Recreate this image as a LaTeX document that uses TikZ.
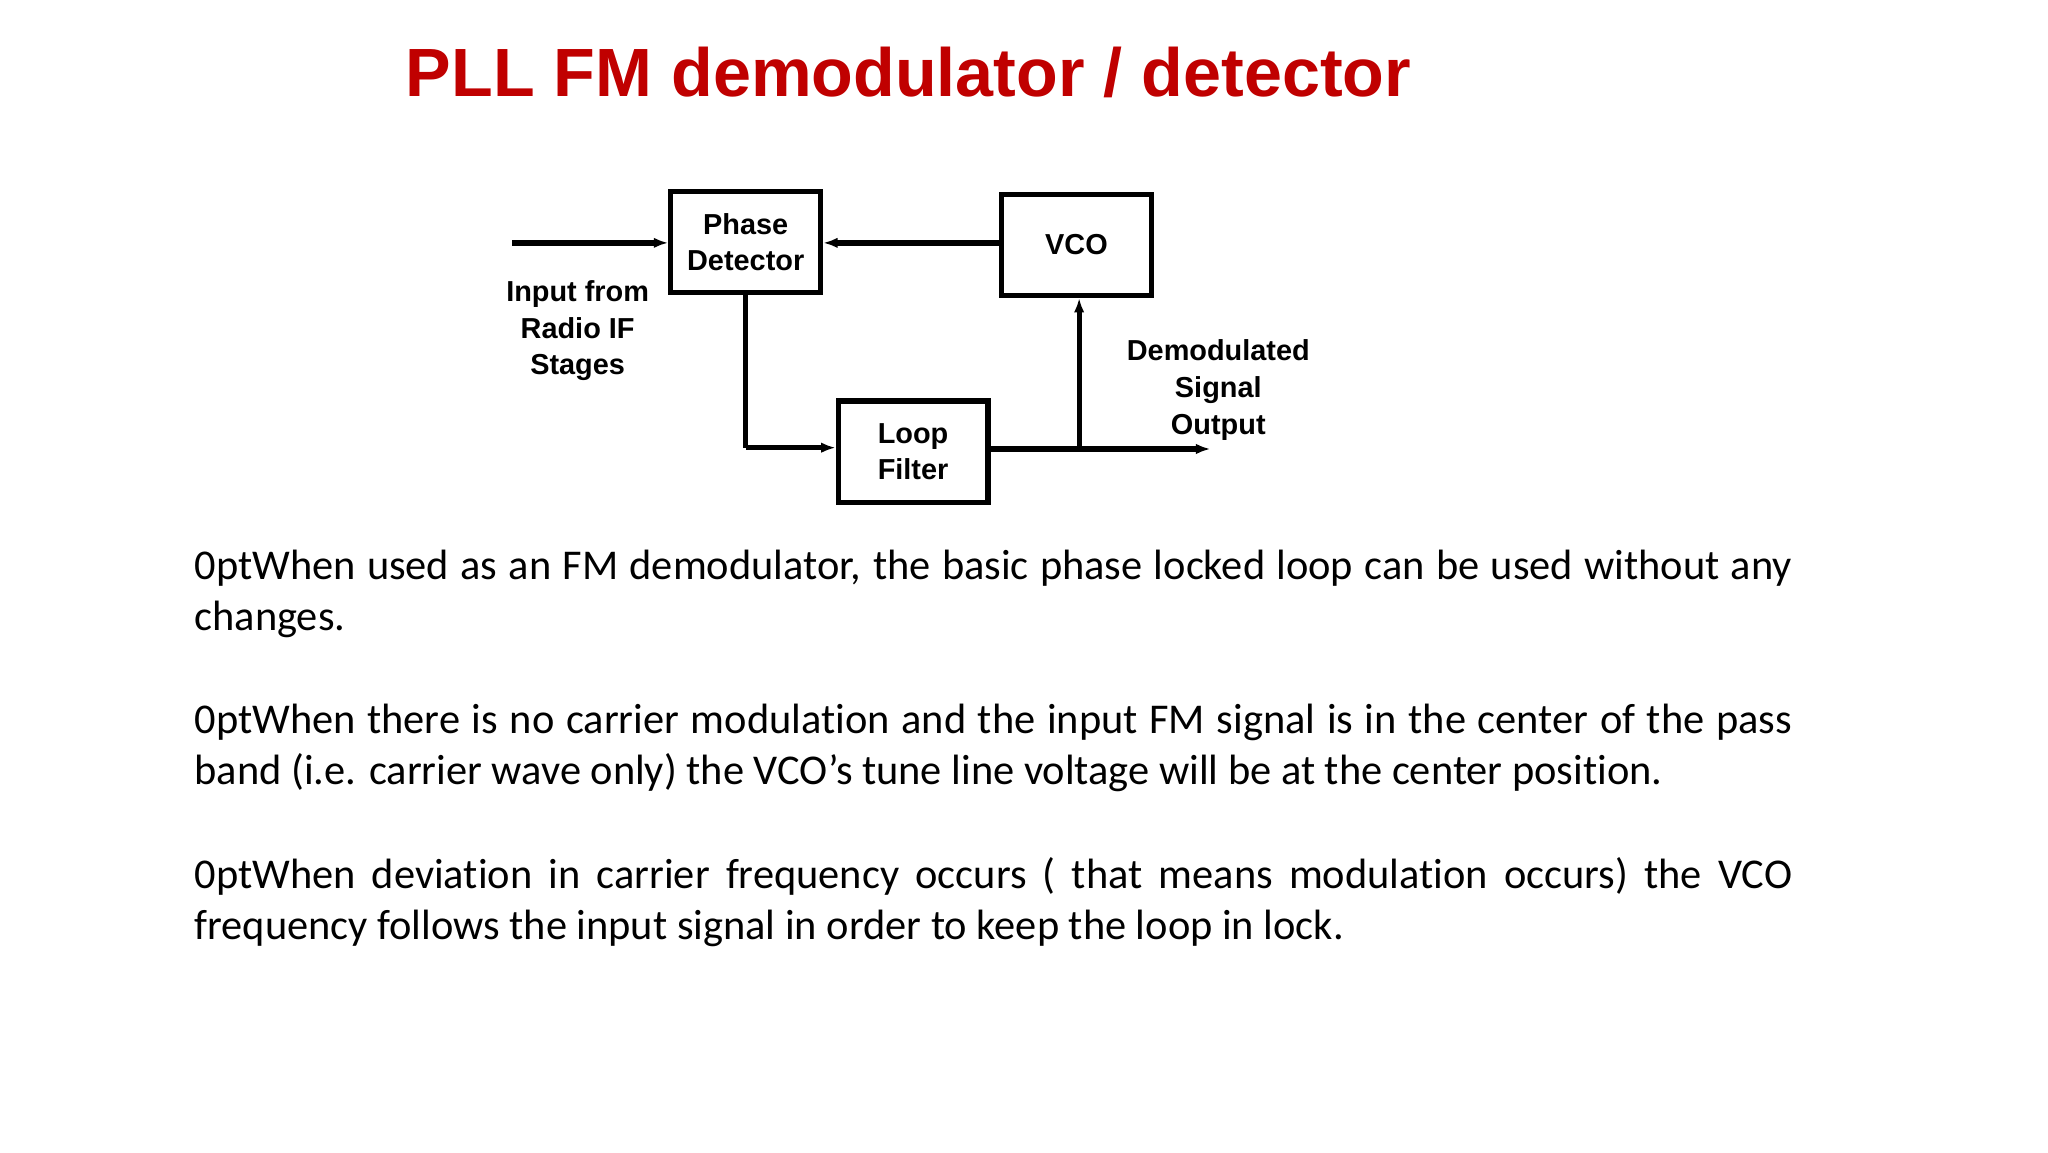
\documentclass[tikz,border=0pt]{standalone}
\usepackage{fontspec}
\setmainfont[Ligatures=NoCommon]{Carlito}
\newfontfamily\arialf{Liberation Sans}
\usetikzlibrary{arrows.meta}
\definecolor{titlered}{HTML}{C00000}
\begin{document}
\begin{tikzpicture}[x=1pt,y=-1pt,
  blk/.style={draw,line width=4pt,minimum width=114pt,minimum height=77pt,align=center,font=\arialf\bfseries\fontsize{22}{28}\selectfont},
  wire/.style={line width=4pt},
  arr/.style={wire,-{Latex[length=11pt,width=8pt]}},
  lbl/.style={align=center,font=\arialf\bfseries\fontsize{22}{28}\selectfont},
  para/.style={anchor=north west,text width=1217pt,align=justify,inner sep=0pt,font=\fontsize{32.3}{39}\selectfont\hyphenpenalty=10000\exhyphenpenalty=10000}]
\useasboundingbox[fill=white] (0,0) rectangle (1560,878);
\node[font=\arialf\bfseries\fontsize{52}{60}\selectfont,text=titlered] (title) at (692,55) {PLL FM demodulator / detector};
\node[blk] (pd) at (568,184.5) {Phase\\Detector};
\node[blk] (vco) at (820,186.5) {VCO};
\node[blk] (lf) at (695.5,344) {Loop\\Filter};
\coordinate (in) at (390,185);
\coordinate (out) at (922,342);
\coordinate (j) at (822,342);
\coordinate (c1) at (568,341);
\draw[arr] (in) -- (in -| pd.west);
\draw[arr] (vco.west |- in) -- (pd.east |- in);
\draw[wire] (pd.south) -- (c1);
\draw[arr] (c1) -- (c1 -| lf.west);
\draw[arr] (lf.east |- j) -- (out);
\draw[arr] (j) -- (j |- vco.south);
\node[lbl] (inl) at (440,252) {Input from\\Radio IF\\Stages};
\node[lbl] (outl) at (928,297) {Demodulated\\Signal\\Output};
\node[para] (p1) at (148,419) {When used as an FM demodulator, the basic phase locked loop can be used without any\linebreak changes.};
\node[para] (p2) at (148,536) {When there is no carrier modulation and the input FM signal is in the center of the pass\linebreak band (i.e. carrier wave only) the VCO’s tune line voltage will be at the center position.};
\node[para] (p3) at (148,653) {When deviation in carrier frequency occurs ( that means modulation occurs) the VCO\linebreak frequency follows the input signal in order to keep the loop in lock.};
\end{tikzpicture}
\end{document}
